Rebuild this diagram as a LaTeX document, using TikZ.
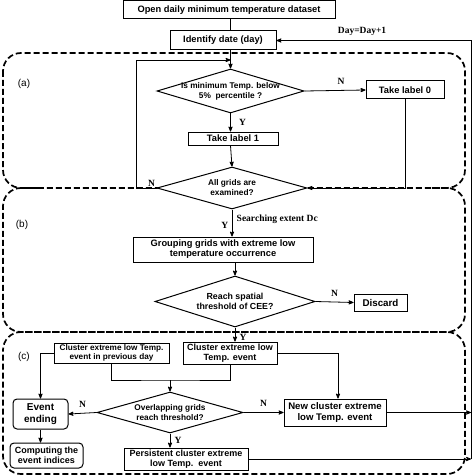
\documentclass[tikz,border=0pt]{standalone}
\usepackage{fontspec}
\setmainfont{Liberation Sans}
\newfontfamily\tnr{Liberation Serif}
\usetikzlibrary{arrows, shapes.geometric}

\begin{document}
\begin{tikzpicture}[x=1pt, y=-1pt, >=stealth', line width=0.8pt,
box/.style={draw, fill=white, line width=1pt, font=\bfseries\fontsize{9.3}{10}\selectfont, align=center, inner sep=1pt},
bigbox/.style={box, font=\bfseries\fontsize{10}{11.5}\selectfont},
decision/.style={diamond, draw, fill=white, line width=1pt, aspect=3.2, inner sep=-4pt, align=center, font=\bfseries\fontsize{8.3}{10}\selectfont},
yn/.style={font=\tnr\bfseries\fontsize{9.5}{10}\selectfont},
frame/.style={dashed, dash pattern=on 6pt off 3pt, line width=1.7pt, rounded corners=18pt}]
\useasboundingbox (0,0) rectangle (474,476);

% frames
\draw[frame] (3,53) rectangle (465,188);
\draw[frame] (40,188) -- (3,188) -- (3,332) -- (465,332) -- (465,188) -- (428,188);
\draw[frame, dash phase=4.5pt] (3,332) rectangle (465,474);
\node at (24,84) {\fontsize{10}{11}\selectfont (a)};
\node at (22,225) {\fontsize{10}{11}\selectfont (b)};
\node at (24,357) {\fontsize{10}{11}\selectfont (c)};

% part (a)
\node[box, minimum width=212, minimum height=18] (open) at (229,10) {Open daily minimum temperature dataset};
\node[box, minimum width=106, minimum height=19] (identify) at (223,40.5) {Identify date (day)};
\node[decision, minimum width=147, minimum height=44] (d1) at (230.5,91) {Is minimum Temp. below\\5\%\ \ percentile ?};
\node[box, minimum width=78, minimum height=18] (label0) at (405,90) {Take label 0};
\node[box, minimum width=90, minimum height=13] (label1) at (233,138.5) {Take label 1};
\node[decision, minimum width=150, minimum height=42] (d2) at (232,188) {All grids are\\examined?};
\coordinate (loopin) at (230.5,60);

\draw (open.south -| loopin) -- (loopin |- identify.north);
\draw[->] (loopin |- identify.south) -- (d1.north);
\draw[->] (d2.west) -- ++(-20,0) |- (loopin);
\draw[->] (d1.east) -- node[yn, above=2pt, pos=0.6] {N} (label0.west);
\draw[->] (label0.south) |- (d2.east);
\draw[->] (d1.south) -- node[yn, right=5pt] {Y} (d1.south |- label1.north);
\draw[->] (d1.south |- label1.south) -- (d2.north);
\node[yn, anchor=south east, inner sep=1pt] at (d2.west) {N};

% part (b)
\node[box, minimum width=180, minimum height=25] (group) at (223,249.5) {Grouping grids with extreme low\\temperature occurrence};
\node[decision, minimum width=160, minimum height=51, font=\bfseries\fontsize{8.8}{10.5}\selectfont] (d3) at (235,301.5) {Reach spatial\\threshold of CEE?};
\node[box, minimum width=53, minimum height=17, font=\bfseries\fontsize{9.8}{10}\selectfont] (discard) at (380.5,302.5) {Discard};

\draw[->] (d2.south) -- node[yn, left=0pt, pos=0.6] {Y} node[yn, right=1pt, pos=0.35] {Searching extent Dc} (d2.south |- group.north);
\draw[->] (d3.north |- group.south) -- (d3.north);
\draw[->] (d3.east) -- node[yn, above=2pt] {N} (discard.west);

% part (c)
\node[box, minimum width=115, minimum height=20, font=\bfseries\fontsize{8.2}{8.8}\selectfont] (prevday) at (111.5,353) {Cluster extreme low Temp.\\event in previous day};
\node[box, minimum width=94, minimum height=22, font=\bfseries\fontsize{9}{9.8}\selectfont] (cluster) at (230,353) {Cluster extreme low\\Temp. event};
\node[decision, minimum width=146, minimum height=41] (d4) at (170,412.5) {Overlapping grids\\reach threshold?};
\node[bigbox, rounded corners=4pt, minimum width=55, minimum height=30] (ending) at (40.5,414) {Event\\ending};
\node[box, rounded corners=4pt, minimum width=73, minimum height=25, font=\bfseries\fontsize{9}{9.5}\selectfont] (indices) at (46.5,455.5) {Computing the\\event indices};
\node[bigbox, minimum width=102, minimum height=27, font=\bfseries\fontsize{9.6}{11}\selectfont] (newcl) at (335,412.5) {New cluster extreme\\low Temp. event};
\node[box, minimum width=124, minimum height=22, font=\bfseries\fontsize{9}{9.8}\selectfont] (persist) at (186,459) {Persistent cluster extreme\\low Temp.\ \ event};
\coordinate (merge) at (170,380);
\coordinate (back) at (471,459);

\draw[->] (d3.south) -- node[yn, right=1pt, pos=0.7] {Y} (d3.south |- cluster.north);
\draw (prevday.south) |- (merge) -| (cluster.south);
\draw[->] (merge) -- (d4.north);
\draw[->] (prevday.west) -| (ending.north);
\draw[->] (cluster.east) -| ([xshift=3pt]newcl.north);
\draw[->] (d4.west) -- node[yn, above=2pt] {N} (ending.east);
\draw[->] (d4.east) -- node[yn, above=2pt] {N} (newcl.west);
\draw[->] (ending.south) -- (ending.south |- indices.north);
\draw[->] (d4.south) -- node[yn, right=1pt] {Y} (d4.south |- persist.north);
\draw[->] (newcl.east) -- (newcl.east -| back);
\draw[->] (persist.east) -- (back);
\draw[->] (back) |- node[yn, above=1pt, pos=0.78] {Day=Day+1} (identify.east);

\end{tikzpicture}
\end{document}
